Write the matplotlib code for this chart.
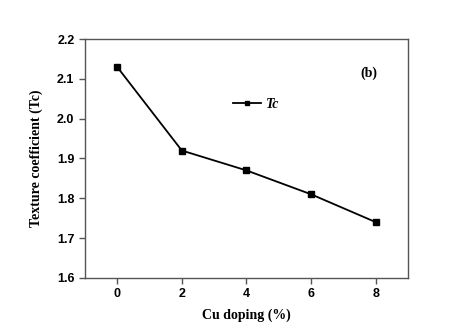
import matplotlib
matplotlib.use("Agg")
import matplotlib.pyplot as plt

cu_doping = [0, 2, 4, 6, 8]
texture_coeff = [2.13, 1.92, 1.87, 1.81, 1.74]

fig = plt.figure(figsize=(4.74, 3.34), dpi=100)
ax = fig.add_axes([0.179, 0.168, 0.682, 0.715])

ax.plot(cu_doping, texture_coeff, "-s", color="black", lw=1.3,
        markersize=4, label="Tc")

ax.set_xlim(-1, 9)
ax.set_ylim(1.6, 2.2)
ax.set_xticks([0, 2, 4, 6, 8])
ax.set_yticks([1.6, 1.7, 1.8, 1.9, 2.0, 2.1, 2.2])
ax.yaxis.set_major_formatter(plt.FuncFormatter(lambda y, _: f"{y:.1f}"))

for side in ["left", "bottom", "right", "top"]:
    ax.spines[side].set_color("#555555")
    ax.spines[side].set_linewidth(1.0)
ax.tick_params(direction="out", length=4, width=1, color="#555555",
               top=False, right=False)
for lbl in ax.get_xticklabels() + ax.get_yticklabels():
    lbl.set_fontfamily("Liberation Sans")
    lbl.set_fontweight("bold")
    lbl.set_fontsize(9)

ax.set_xlabel("Cu doping (%)", family="Liberation Serif", fontweight="bold",
              fontsize=10, labelpad=6)
ax.set_ylabel("Texture coefficient (Tc)", family="Liberation Serif",
              fontweight="bold", fontsize=10, labelpad=10)

ax.text(0.88, 0.858, "(b)", transform=ax.transAxes, family="Liberation Serif",
        fontweight="bold", fontsize=10, ha="center", va="center")

leg = ax.legend(loc="center left", bbox_to_anchor=(0.42, 0.728), frameon=False,
                handlelength=2.0, handletextpad=0.4, markerscale=0.6,
                prop={"family": "Liberation Serif", "weight": "bold",
                      "style": "italic", "size": 10})

fig.savefig("out.png", dpi=100)
